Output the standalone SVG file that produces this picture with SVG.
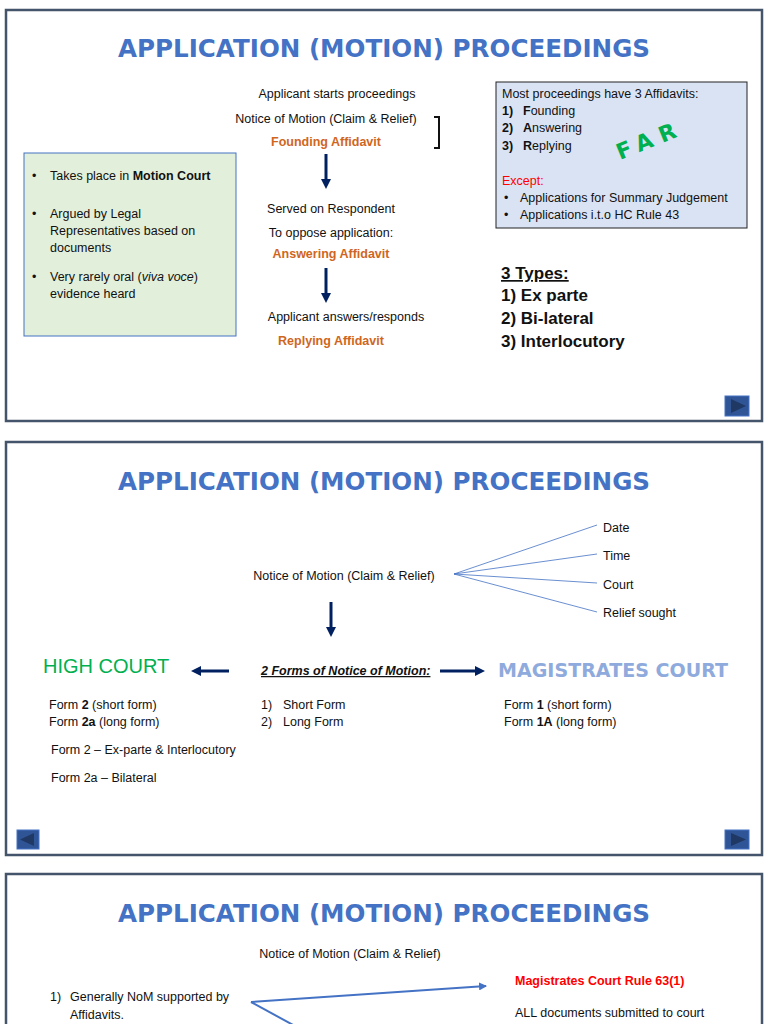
<svg xmlns="http://www.w3.org/2000/svg" width="768" height="1024" viewBox="0 0 768 1024">
<defs>
<style>
.frame{fill:#fff;stroke:#44546a;stroke-width:2.5}
.title{font-family:"DejaVu Sans",sans-serif;font-weight:bold;font-size:24px;fill:#4472c4}
.t{font-family:"Liberation Sans",sans-serif;font-size:12.5px;fill:#111}
.o{font-family:"Liberation Sans",sans-serif;font-size:12.5px;fill:#d0661e;font-weight:bold}
.big{font-family:"Liberation Sans",sans-serif;font-size:17px;font-weight:bold;fill:#111}
.nav{fill:#2f5597;stroke:#4472c4;stroke-width:1}
</style>
<marker id="ah" markerWidth="10" markerHeight="10" refX="5" refY="5" orient="auto" markerUnits="userSpaceOnUse"><path d="M0,0 L10,5 L0,10 z" fill="#002060"/></marker>
<marker id="ab" markerWidth="8" markerHeight="8" refX="7" refY="4" orient="auto" markerUnits="userSpaceOnUse"><path d="M0,0 L8,4 L0,8 z" fill="#4472c4"/></marker>
</defs>

<!-- Slide 1 -->
<g id="slide1">
<rect class="frame" x="6" y="10" width="756" height="411"/>
<text class="title" x="384" y="57" text-anchor="middle" textLength="532" lengthAdjust="spacingAndGlyphs">APPLICATION (MOTION) PROCEEDINGS</text>
</g>
<g id="flow1">
<text class="t" x="337" y="98" text-anchor="middle">Applicant starts proceedings</text>
<text class="t" x="326" y="123" text-anchor="middle">Notice of Motion (Claim &amp; Relief)</text>
<text class="o" x="326" y="146" text-anchor="middle">Founding Affidavit</text>
<path d="M434,117 H439 V148 H434" fill="none" stroke="#111" stroke-width="2"/>
<text class="t" x="331" y="213" text-anchor="middle">Served on Respondent</text>
<text class="t" x="331" y="237" text-anchor="middle">To oppose application:</text>
<text class="o" x="331" y="258" text-anchor="middle">Answering Affidavit</text>
<text class="t" x="346" y="321" text-anchor="middle">Applicant answers/responds</text>
<text class="o" x="331" y="345" text-anchor="middle">Replying Affidavit</text>
</g>
<g id="connectors1" stroke="#002060" stroke-width="3">
<line x1="326" y1="154" x2="326" y2="184" marker-end="url(#ah)"/>
<line x1="326" y1="268" x2="326" y2="298" marker-end="url(#ah)"/>
</g>
<g id="greenbox">
<rect x="24" y="153" width="212" height="183" fill="#e2efda" stroke="#4472c4" stroke-width="1"/>
<text class="t" x="32" y="180">•</text><text class="t" x="50" y="180">Takes place in <tspan font-weight="bold">Motion Court</tspan></text>
<text class="t" x="32" y="218">•</text><text class="t" x="50" y="218">Argued by Legal</text>
<text class="t" x="50" y="235">Representatives based on</text>
<text class="t" x="50" y="252">documents</text>
<text class="t" x="32" y="281">•</text><text class="t" x="50" y="281">Very rarely oral (<tspan font-style="italic">viva voce</tspan>)</text>
<text class="t" x="50" y="298">evidence heard</text>
</g>
<g id="bluebox">
<rect x="496" y="82" width="251" height="146" fill="#dae3f3" stroke="#222" stroke-width="1"/>
<text class="t" x="502" y="98">Most proceedings have 3 Affidavits:</text>
<text class="t" x="502" y="115" font-weight="bold">1)</text><text class="t" x="523" y="115"><tspan font-weight="bold">F</tspan>ounding</text>
<text class="t" x="502" y="132" font-weight="bold">2)</text><text class="t" x="523" y="132"><tspan font-weight="bold">A</tspan>nswering</text>
<text class="t" x="502" y="150" font-weight="bold">3)</text><text class="t" x="523" y="150"><tspan font-weight="bold">R</tspan>eplying</text>
<text x="620" y="160" transform="rotate(-22 620 160)" font-family="DejaVu Sans,sans-serif" font-weight="bold" font-size="22" fill="#00b050" letter-spacing="8">FAR</text>
<text class="t" x="502" y="185" style="fill:#ff0000">Except:</text>
<text class="t" x="504" y="202">•</text><text class="t" x="520" y="202">Applications for Summary Judgement</text>
<text class="t" x="504" y="219">•</text><text class="t" x="520" y="219">Applications i.t.o HC Rule 43</text>
</g>
<g id="types">
<text class="big" x="501" y="279" text-decoration="underline">3 Types:</text>
<text class="big" x="501" y="301">1)  Ex parte</text>
<text class="big" x="501" y="324">2) Bi-lateral</text>
<text class="big" x="501" y="347">3) Interlocutory</text>
</g>
<g id="nav1"><rect class="nav" x="725" y="396" width="24" height="20"/><path d="M731,399 L746,406 L731,413 z" fill="#203864"/></g>

<!-- Slide 2 -->
<g id="slide2">
<rect class="frame" x="6" y="442" width="756" height="413"/>
<text class="title" x="384" y="490" text-anchor="middle" textLength="532" lengthAdjust="spacingAndGlyphs">APPLICATION (MOTION) PROCEEDINGS</text>
</g>
<g id="nom2"><text class="t" x="344" y="580" text-anchor="middle">Notice of Motion (Claim &amp; Relief)</text></g>
<g id="fan">
<text class="t" x="603" y="532">Date</text>
<text class="t" x="603" y="560">Time</text>
<text class="t" x="603" y="589">Court</text>
<text class="t" x="603" y="617">Relief sought</text>
</g>
<g id="connectors2">
<g stroke="#4472c4" stroke-width="0.8">
<line x1="454" y1="574" x2="597" y2="525"/>
<line x1="454" y1="574" x2="597" y2="554"/>
<line x1="454" y1="574" x2="597" y2="583"/>
<line x1="454" y1="574" x2="597" y2="612"/>
</g>
<g stroke="#002060" stroke-width="3">
<line x1="331" y1="602" x2="331" y2="632" marker-end="url(#ah)"/>
<line x1="229" y1="671" x2="196" y2="671" marker-end="url(#ah)"/>
<line x1="440" y1="671" x2="480" y2="671" marker-end="url(#ah)"/>
</g>
</g>
<g id="hc"><text x="43" y="673" font-family="Liberation Sans,sans-serif" font-size="20" fill="#00b050">HIGH COURT</text>
<text class="t" x="49" y="709">Form <tspan font-weight="bold">2</tspan> (short form)</text>
<text class="t" x="49" y="726">Form <tspan font-weight="bold">2a</tspan> (long form)</text>
<text class="t" x="51" y="754">Form 2 – Ex-parte &amp; Interlocutory</text>
<text class="t" x="51" y="782">Form 2a – Bilateral</text></g>
<g id="forms"><text class="t" x="261" y="675" font-weight="bold" font-style="italic" text-decoration="underline">2 Forms of Notice of Motion:</text>
<text class="t" x="261" y="709">1)</text><text class="t" x="283" y="709">Short Form</text>
<text class="t" x="261" y="726">2)</text><text class="t" x="283" y="726">Long Form</text></g>
<g id="mc"><text x="498" y="677" font-family="DejaVu Sans,sans-serif" font-weight="bold" font-size="19" fill="#8faadc" textLength="230" lengthAdjust="spacingAndGlyphs">MAGISTRATES COURT</text>
<text class="t" x="504" y="709">Form <tspan font-weight="bold">1</tspan> (short form)</text>
<text class="t" x="504" y="726">Form <tspan font-weight="bold">1A</tspan> (long form)</text></g>
<g id="nav2"><rect class="nav" x="17" y="830" width="22" height="19"/><path d="M34,833 L20,839.5 L34,846 z" fill="#203864"/>
<rect class="nav" x="725" y="830" width="24" height="19"/><path d="M731,833 L746,839.5 L731,846 z" fill="#203864"/></g>

<!-- Slide 3 -->
<g id="slide3">
<rect class="frame" x="6" y="874" width="756" height="160"/>
<text class="title" x="384" y="922" text-anchor="middle" textLength="532" lengthAdjust="spacingAndGlyphs">APPLICATION (MOTION) PROCEEDINGS</text>
</g>
<g id="nom3"><text class="t" x="350" y="958" text-anchor="middle">Notice of Motion (Claim &amp; Relief)</text></g>
<g id="gen"><text class="t" x="50" y="1001">1)</text><text class="t" x="70" y="1001">Generally NoM supported by</text><text class="t" x="70" y="1019">Affidavits.</text></g>
<g id="mcr"><text class="t" x="515" y="985" font-weight="bold" style="fill:#ff0000">Magistrates Court Rule 63(1)</text>
<text class="t" x="515" y="1017">ALL documents submitted to court</text></g>
<g id="connectors3" stroke="#4472c4" stroke-width="2" fill="none">
<line x1="251" y1="1002" x2="486" y2="986" marker-end="url(#ab)"/>
<line x1="251" y1="1002" x2="295" y2="1026"/>
</g>
</svg>
